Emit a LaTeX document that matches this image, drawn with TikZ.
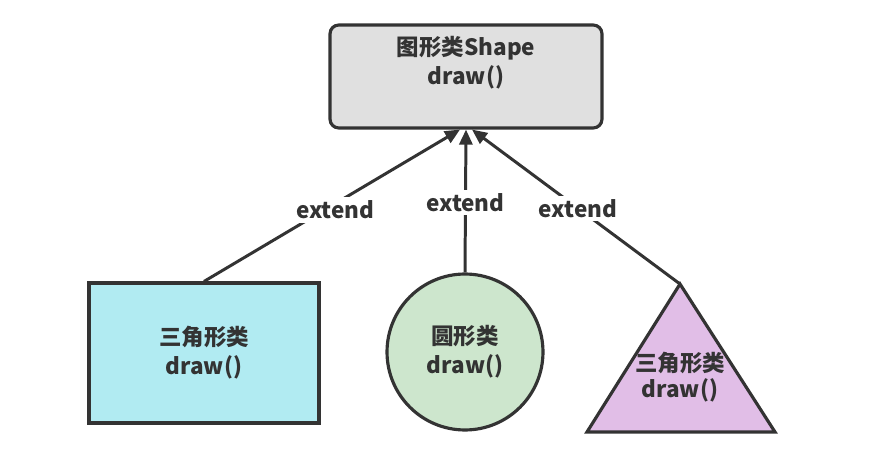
\documentclass[tikz,border=0pt]{standalone}
\usepackage{fontspec}
\setmainfont{Noto Sans CJK SC}
\usetikzlibrary{arrows.meta}
\definecolor{tinta}{HTML}{333333}
\definecolor{gris}{HTML}{E0E0E0}
\definecolor{cian}{HTML}{B1EBF2}
\definecolor{verde}{HTML}{CDE6CD}
\definecolor{lila}{HTML}{E1BEE7}
\tikzset{
  texto/.style={align=center,font=\fontsize{12.8}{16.5}\selectfont\bfseries,text=tinta,inner sep=0pt},
  clase/.style={texto,draw=tinta,line width=1.8pt},
  padre/.style={clase,fill=gris,rounded corners=5pt,minimum width=5.44cm,minimum height=2.06cm},
  caja/.style={clase,fill=cian,minimum width=4.6cm,minimum height=2.8cm},
  circulo/.style={clase,circle,fill=verde,minimum size=3.12cm},
  triangulo/.style={draw=tinta,fill=lila,line width=1.8pt,line join=miter},
  flecha/.style={draw=tinta,line width=1.7pt,-{Triangle[length=0.3cm,width=0.26cm]}},
  etiqueta/.style={texto,fill=white,inner sep=2pt},
}

\begin{document}
\begin{tikzpicture}[x=0.02cm,y=-0.02cm]
\useasboundingbox (0,0) rectangle (883,449);
\coordinate (c1) at (466,76.5);
\coordinate (c2) at (204,353);
\coordinate (c3) at (465,352);
\coordinate (tri) at (680,284);
% clase padre
\node[padre] (shape) at (c1) {};
\node[texto] (shapetxt) at (466,63) {图形类Shape\\draw()};
% subclases
\node[caja] (rect) at (c2) {三角形类\\draw()};
\node[circulo] (circ) at (c3) {圆形类\\draw()};
\draw[triangulo] (tri) -- (775,432) -- (587,432) -- cycle;
\node[texto,font=\fontsize{12.8}{15}\selectfont\bfseries] (tritxt) at (680,377) {三角形类\\draw()};
% herencia
\draw[flecha] (rect.north) -- node[etiqueta,pos=0.47,xshift=0.22cm] {extend} ([xshift=-0.12cm]shape.south);
\draw[flecha] (circ.north) -- node[etiqueta,pos=0.49] {extend} (shape.south);
\draw[flecha] (tri) -- node[etiqueta,pos=0.49] {extend} ([xshift=0.12cm]shape.south);
\end{tikzpicture}
\end{document}
